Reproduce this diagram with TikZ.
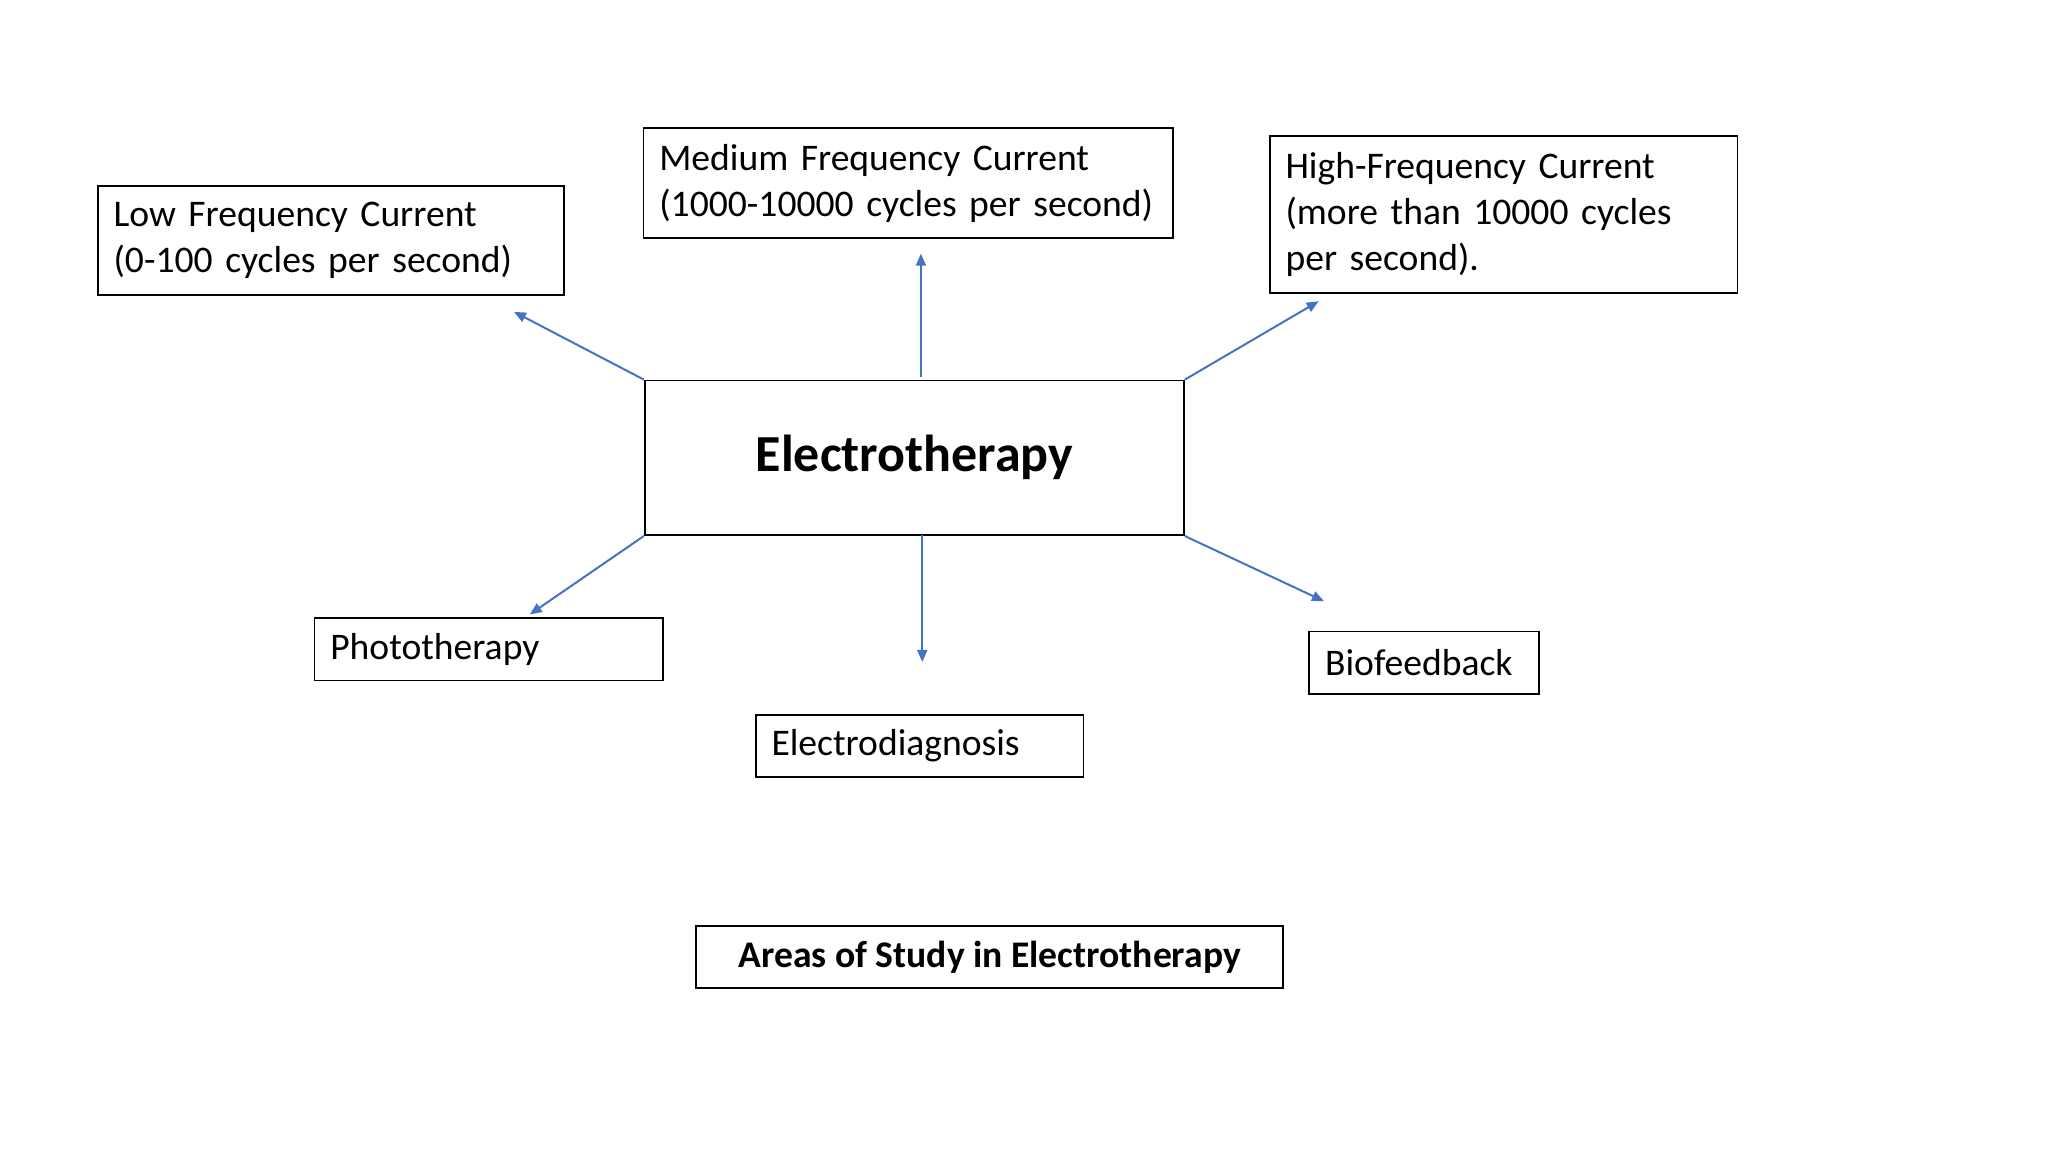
\documentclass[tikz,border=0pt]{standalone}
\usepackage{fontspec}
\setmainfont{Carlito}
\usetikzlibrary{arrows.meta}
\definecolor{ab}{HTML}{4472C4}
\begin{document}
\begin{tikzpicture}[x=0.6607pt,y=-0.6607pt,
  box/.style={draw=black,line width=0.9pt,rectangle,inner xsep=7.9pt,inner ysep=0pt,align=left,font=\fontsize{18.8}{23}\selectfont},
  arr/.style={draw=ab,line width=1pt,-{Triangle[length=6pt,width=5pt]}}]
\useasboundingbox (0,0) rectangle (1550,872);
\node[box,minimum width=233.2pt,minimum height=54.2pt,text width=217.4pt] (low) at (250.5,182) {Low Frequency Current\\(0-100 cycles per second)};
\node[box,minimum width=264.9pt,minimum height=54.8pt,text width=249.1pt] (med) at (687.5,138.5) {Medium Frequency Current\\(1000-10000 cycles per second)};
\node[box,minimum width=233.9pt,minimum height=78.6pt,text width=218.1pt] (high) at (1138,162.5) {High-Frequency Current\\(more than 10000 cycles\\per second).};
\node[draw=black,line width=0.9pt,minimum width=269.6pt,minimum height=77.3pt,font=\fontsize{26}{30}\selectfont\bfseries] (c) at (692,346.5) {Electrotherapy};
\node[box,minimum width=174.4pt,minimum height=31.1pt,text width=158.6pt] (photo) at (370,491.5) {Phototherapy};
\node[box,minimum width=163.9pt,minimum height=31.1pt,text width=148.1pt] (diag) at (696,564.5) {Electrodiagnosis};
\node[box,minimum width=115pt,minimum height=31.1pt,text width=99.2pt] (bio) at (1078,501.5) {Biofeedback};
\node[draw=black,line width=0.9pt,minimum width=293.3pt,minimum height=31.1pt,inner sep=0pt,font=\fontsize{18.8}{23}\selectfont\bfseries] (title) at (749,724.5) {Areas of Study in Electrotherapy};
\coordinate (tl) at (389,236);
\coordinate (tm) at (697,192);
\coordinate (th) at (998,228);
\coordinate (tp) at (401,465);
\coordinate (td) at (698,501);
\coordinate (tb) at (1002,455);
\coordinate (sm) at (697,285);
\coordinate (sd) at (698,405);
\draw[arr] (c.north west) -- (tl);
\draw[arr] (sm) -- (tm);
\draw[arr] (c.north east) -- (th);
\draw[arr] (c.south west) -- (tp);
\draw[arr] (sd) -- (td);
\draw[arr] (c.south east) -- (tb);
\end{tikzpicture}
\end{document}
